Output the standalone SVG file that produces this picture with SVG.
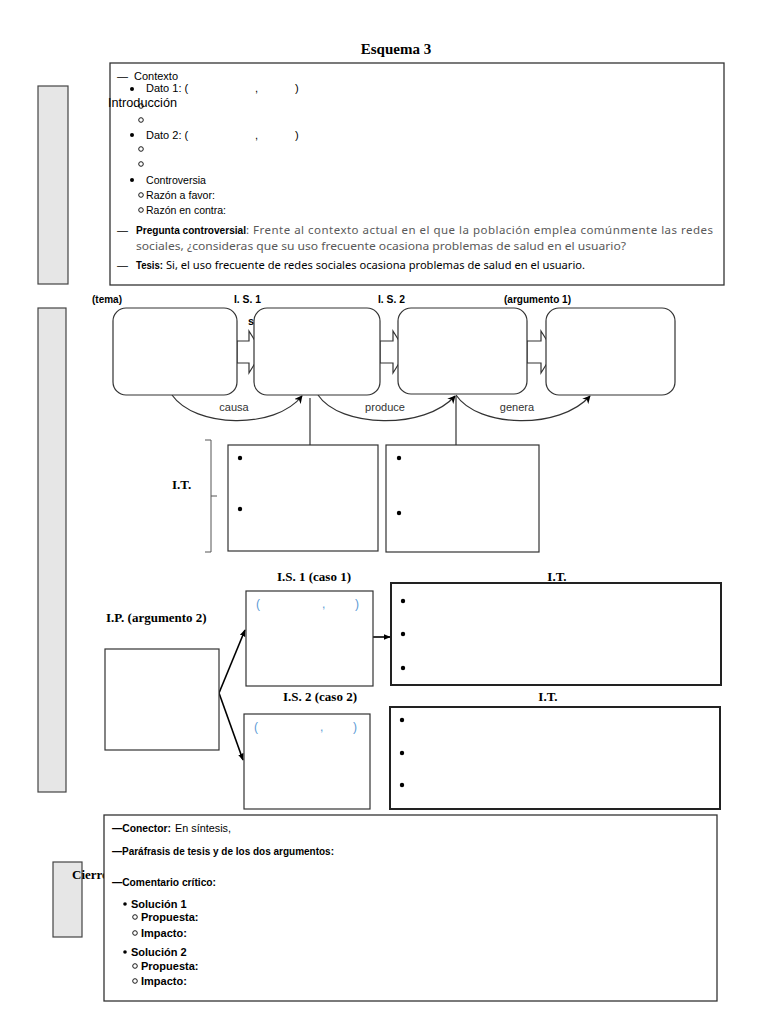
<svg xmlns="http://www.w3.org/2000/svg" width="768" height="1024" viewBox="0 0 768 1024">
<style>
.bar{fill:#e6e6e6;stroke:#444;stroke-width:1.2}
.box{fill:#fff;stroke:#333;stroke-width:1.2}
.tbox{fill:#fff;stroke:#222;stroke-width:2}
.rbox{fill:#fff;stroke:#333;stroke-width:1.2}
.sans{font-family:"Liberation Sans",Arial,sans-serif;fill:#000}
.serifb{font-family:"Liberation Serif","Times New Roman",serif;font-weight:bold;fill:#000}
.b{font-weight:bold}
.cal{font-family:"Noto Sans","Open Sans",sans-serif;fill:#595959;font-size:11.5px}
.blue{font-family:"Liberation Sans",Arial,sans-serif;fill:#5b9bd5;font-size:12px}
.dot{fill:#000}
.conn{fill:none;stroke:#333;stroke-width:1.2}
.conn2{fill:none;stroke:#000;stroke-width:1.6}
.lbl{font-family:"Liberation Sans",Arial,sans-serif;fill:#333;font-size:11px}
.ring{fill:none;stroke:#000;stroke-width:0.9}
</style>
<defs>
<marker id="ah" viewBox="0 0 10 10" refX="9" refY="5" markerWidth="8" markerHeight="8" orient="auto" markerUnits="userSpaceOnUse"><path d="M0,0 L10,5 L0,10 L3,5 z" fill="#000"/></marker>
<marker id="ah2" viewBox="0 0 10 10" refX="9" refY="5" markerWidth="7" markerHeight="7" orient="auto" markerUnits="userSpaceOnUse"><path d="M0,1 L10,5 L0,9 z" fill="#000"/></marker>
<clipPath id="introclip"><rect x="110" y="63" width="614" height="221"/></clipPath>
</defs>
<rect width="768" height="1024" fill="#fff"/>

<text class="serifb" x="396" y="54" font-size="15" text-anchor="middle">Esquema 3</text>

<!-- Introduction -->
<g id="intro-bar"><rect class="bar" x="38" y="86" width="30" height="198"/></g>
<g id="intro">
<rect x="110" y="63" width="614" height="222" fill="#fff" stroke="#333" stroke-width="1.3"/>
<g class="sans" font-size="11">
<text x="117" y="80">—</text><text x="134" y="80" textLength="44" lengthAdjust="spacingAndGlyphs">Contexto</text>
<circle class="dot" cx="132" cy="89" r="2"/><text x="146" y="92">Dato 1: (</text><text x="255" y="92">,</text><text x="295" y="92">)</text>
<circle class="ring" cx="141" cy="106" r="2.3"/>
<circle class="ring" cx="141" cy="120" r="2.3"/>
<circle class="dot" cx="132" cy="135" r="2"/><text x="146" y="139">Dato 2: (</text><text x="255" y="139">,</text><text x="295" y="139">)</text>
<circle class="ring" cx="141" cy="149" r="2.3"/>
<circle class="ring" cx="141" cy="164" r="2.3"/>
<circle class="dot" cx="132" cy="180" r="2"/><text x="146" y="184" textLength="60" lengthAdjust="spacingAndGlyphs">Controversia</text>
<circle class="ring" cx="141" cy="195" r="2.3"/><text x="146" y="199" textLength="69" lengthAdjust="spacingAndGlyphs">Razón a favor:</text>
<circle class="ring" cx="141" cy="210" r="2.3"/><text x="146" y="214" textLength="80" lengthAdjust="spacingAndGlyphs">Razón en contra:</text>
<text x="117" y="234">—</text><text x="136" y="234" class="b" textLength="110" lengthAdjust="spacingAndGlyphs">Pregunta controversial</text>
<text x="117" y="269">—</text><text x="136" y="269" class="b" textLength="27" lengthAdjust="spacingAndGlyphs">Tesis:</text>
</g>
<text class="cal" x="246" y="234" textLength="467" lengthAdjust="spacing">: Frente al contexto actual en el que la población emplea comúnmente las redes</text>
<text class="cal" x="136" y="250" textLength="490" lengthAdjust="spacingAndGlyphs">sociales, ¿consideras que su uso frecuente ocasiona problemas de salud en el usuario?</text>
<text class="cal" x="166" y="269" style="fill:#000" font-size="11" textLength="419" lengthAdjust="spacingAndGlyphs">Si, el uso frecuente de redes sociales ocasiona problemas de salud en el usuario.</text>
<g clip-path="url(#introclip)"><text class="sans b" x="128" y="292" font-size="11">Justificación:</text></g>
<text class="sans" x="108" y="107" font-size="13" textLength="69" lengthAdjust="spacingAndGlyphs">Introducción</text>
</g>

<!-- Development bar -->
<g id="desarrollo-bar"><rect class="bar" x="38" y="308" width="28" height="484"/></g>

<!-- flow labels -->
<g class="sans b" font-size="11">
<text x="92" y="303" textLength="30" lengthAdjust="spacingAndGlyphs">(tema)</text>
<text x="234" y="303" textLength="27" lengthAdjust="spacingAndGlyphs">I. S. 1</text>
<text x="378" y="303" textLength="27" lengthAdjust="spacingAndGlyphs">I. S. 2</text>
<text x="504" y="303" textLength="67" lengthAdjust="spacingAndGlyphs">(argumento 1)</text>
</g>
<text class="sans b" x="248" y="325" font-size="11">s</text>

<!-- connectors -->
<g id="connectors">
<polygon class="rbox" points="237,341 249,341 249,331 262,352 249,373 249,363 237,363"/>
<polygon class="rbox" points="380,341 393,341 393,331 406,352 393,373 393,363 380,363"/>
<polygon class="rbox" points="527,341 541,341 541,331 554,352 541,373 541,363 527,363"/>
<path class="conn" d="M172,395 C195,428 275,430 302,396" marker-end="url(#ah)"/>
<path class="conn" d="M318,395 C340,428 425,430 455,396" marker-end="url(#ah)"/>
<path class="conn" d="M456,395 C478,428 560,430 590,396" marker-end="url(#ah)"/>
<line class="conn" x1="310" y1="398" x2="310" y2="449"/>
<line class="conn" x1="456" y1="396" x2="456" y2="445"/>
<path d="M205,440 L211,440 L211,496 L217,496 M211,496 L211,552 L205,552" fill="none" stroke="#555" stroke-width="1"/>
<line class="conn2" x1="373" y1="637" x2="390" y2="637" marker-end="url(#ah2)"/>
<line class="conn2" x1="219" y1="693" x2="245" y2="630" marker-end="url(#ah2)"/>
<line class="conn2" x1="219" y1="693" x2="243" y2="760" marker-end="url(#ah2)"/>
</g>

<g id="tema"><rect class="rbox" x="113" y="308" width="124" height="87" rx="13"/></g>
<g id="is1"><rect class="rbox" x="254" y="308" width="126" height="87" rx="13"/></g>
<g id="is2"><rect class="rbox" x="398" y="308" width="129" height="86" rx="13"/></g>
<g id="argumento1"><rect class="rbox" x="546" y="308" width="129" height="87" rx="13"/></g>

<g class="lbl">
<text x="234" y="411" text-anchor="middle">causa</text>
<text x="385" y="411" text-anchor="middle">produce</text>
<text x="517" y="411" text-anchor="middle">genera</text>
</g>

<text class="serifb" x="172" y="489" font-size="13">I.T.</text>
<g id="it-a"><rect class="box" x="228" y="445" width="150" height="106"/>
<circle class="dot" cx="240" cy="458" r="2.2"/><circle class="dot" cx="240" cy="509" r="2.2"/></g>
<g id="it-b"><rect class="box" x="386" y="445" width="153" height="107"/>
<circle class="dot" cx="399" cy="458" r="2.2"/><circle class="dot" cx="399" cy="513" r="2.2"/></g>

<!-- I.P. section -->
<g class="serifb" font-size="13">
<text x="314" y="581" text-anchor="middle">I.S. 1 (caso 1)</text>
<text x="557" y="581" text-anchor="middle">I.T.</text>
<text x="106" y="622">I.P. (argumento 2)</text>
<text x="320" y="701" text-anchor="middle">I.S. 2 (caso 2)</text>
<text x="548" y="701" text-anchor="middle">I.T.</text>
</g>
<g id="ip"><rect class="box" x="105" y="649" width="114" height="101"/></g>
<g id="is1-caso"><rect class="box" x="246" y="591" width="127" height="95"/>
<text class="blue" x="256" y="608">(</text><text class="blue" x="322" y="608">,</text><text class="blue" x="355" y="608">)</text></g>
<g id="it-1"><rect class="tbox" x="391" y="583" width="330" height="102"/>
<circle class="dot" cx="403" cy="601" r="2.2"/><circle class="dot" cx="403" cy="634" r="2.2"/><circle class="dot" cx="403" cy="668" r="2.2"/></g>
<g id="is2-caso"><rect class="box" x="244" y="714" width="126" height="95"/>
<text class="blue" x="254" y="731">(</text><text class="blue" x="320" y="731">,</text><text class="blue" x="353" y="731">)</text></g>
<g id="it-2"><rect class="tbox" x="390" y="707" width="330" height="102"/>
<circle class="dot" cx="402" cy="720" r="2.2"/><circle class="dot" cx="402" cy="753" r="2.2"/><circle class="dot" cx="402" cy="785" r="2.2"/></g>

<!-- Cierre -->
<g id="cierre-bar"><rect class="bar" x="53" y="862" width="29" height="75"/>
<text class="serifb" x="72" y="879" font-size="13">Cierre</text></g>
<g id="cierre">
<rect x="104" y="815" width="613" height="186" fill="#fff" stroke="#333" stroke-width="1.3"/>
<g class="sans" font-size="11">
<text x="112" y="832" class="b" textLength="59" lengthAdjust="spacingAndGlyphs">—Conector:</text><text x="175" y="832" textLength="56" lengthAdjust="spacingAndGlyphs">En síntesis,</text>
<text x="112" y="855" class="b" textLength="222" lengthAdjust="spacingAndGlyphs">—Paráfrasis de tesis y de los dos argumentos:</text>
<text x="112" y="886" class="b" textLength="104" lengthAdjust="spacingAndGlyphs">—Comentario crítico:</text>
<circle class="dot" cx="125" cy="904" r="1.8"/><text x="131" y="908" class="b">Solución 1</text>
<circle class="ring" cx="135" cy="917" r="2.3"/><text x="141" y="921" class="b">Propuesta:</text>
<circle class="ring" cx="135" cy="933" r="2.3"/><text x="141" y="937" class="b">Impacto:</text>
<circle class="dot" cx="125" cy="952" r="1.8"/><text x="131" y="956" class="b">Solución 2</text>
<circle class="ring" cx="135" cy="966" r="2.3"/><text x="141" y="970" class="b">Propuesta:</text>
<circle class="ring" cx="135" cy="981" r="2.3"/><text x="141" y="985" class="b">Impacto:</text>
</g>
</g>
</svg>
